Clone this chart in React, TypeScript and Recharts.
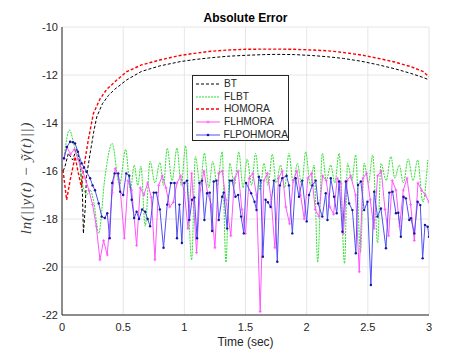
import { CartesianGrid, Line, LineChart, XAxis, YAxis } from 'recharts';

const X_TICKS = [0, 0.5, 1, 1.5, 2, 2.5, 3];
const Y_TICKS = [-22, -20, -18, -16, -14, -12, -10];

// BT (black dashed)
const BT_T = [
  0.01, 0.025, 0.052, 0.087, 0.12, 0.148, 0.167, 0.175, 0.189, 0.2,
  0.23, 0.26, 0.284, 0.33, 0.38, 0.43, 0.53, 0.65, 0.8, 0.97,
  1.08, 1.2, 1.35, 1.5, 1.65, 1.76, 1.9, 2.05, 2.17, 2.3,
  2.45, 2.58, 2.72, 2.85, 2.95, 3.0
];
const BT_V = [
  -16.0, -15.8, -15.26, -15.54, -15.05, -15.68, -16.93, -18.6, -17.6, -16.24,
  -15.26, -14.35, -13.75, -13.2, -12.85, -12.6, -12.2, -11.85, -11.62, -11.44,
  -11.36, -11.29, -11.22, -11.18, -11.15, -11.14, -11.15, -11.19, -11.24, -11.31,
  -11.43, -11.57, -11.74, -11.93, -12.1, -12.2
];

// HOMORA (red dashed)
const HOMORA_T = [
  0.008, 0.038, 0.066, 0.107, 0.13, 0.16, 0.175, 0.215, 0.257, 0.31,
  0.366, 0.45, 0.53, 0.65, 0.8, 0.95, 1.08, 1.2, 1.35, 1.5,
  1.65, 1.76, 1.9, 2.05, 2.17, 2.3, 2.45, 2.58, 2.72, 2.85,
  2.95, 3.0
];
const HOMORA_V = [
  -15.96, -17.2, -16.4, -15.4, -16.0, -16.7, -15.96, -14.7, -13.6, -13.0,
  -12.6, -12.2, -11.86, -11.58, -11.375, -11.2, -11.1, -11.02, -10.96, -10.93,
  -10.92, -10.92, -10.93, -10.96, -10.99, -11.06, -11.17, -11.3, -11.46, -11.65,
  -11.85, -12.07
];

// FLBT (green dotted)
const FLBT_T = [
  0.02, 0.06, 0.11, 0.14, 0.17, 0.2, 0.23, 0.26, 0.3, 0.35,
  0.41, 0.47, 0.52, 0.56, 0.59, 0.62, 0.645, 0.68, 0.72, 0.76,
  0.8, 0.83, 0.86, 0.9, 0.94, 0.975, 1.01, 1.06, 1.09, 1.13,
  1.164, 1.2, 1.232, 1.27, 1.309, 1.34, 1.371, 1.41, 1.445, 1.48,
  1.514, 1.55, 1.582, 1.62, 1.65, 1.685, 1.719, 1.75, 1.787, 1.82,
  1.855, 1.89, 1.924, 1.96, 1.992, 2.03, 2.06, 2.09, 2.128, 2.16,
  2.197, 2.23, 2.265, 2.31, 2.334, 2.37, 2.4, 2.44, 2.47, 2.505,
  2.54, 2.58, 2.607, 2.65, 2.689, 2.72, 2.757, 2.79, 2.83, 2.87,
  2.907, 2.95, 2.99
];
const FLBT_V = [
  -15.3, -14.3, -15.15, -15.6, -16.6, -17.0, -16.8, -17.3, -18.6, -16.3,
  -14.85, -16.6, -15.1, -16.8, -15.75, -16.6, -15.8, -18.3, -15.6, -16.5,
  -15.65, -16.6, -15.05, -16.4, -15.05, -16.6, -14.95, -19.7, -15.4, -16.6,
  -15.26, -16.7, -15.6, -16.6, -15.2, -19.8, -15.68, -16.6, -15.2, -16.7,
  -15.5, -16.6, -15.26, -16.8, -15.68, -16.6, -15.3, -16.5, -15.75, -16.7,
  -15.26, -16.5, -15.68, -16.6, -15.2, -16.6, -15.75, -19.8, -15.26, -16.4,
  -15.75, -16.5, -15.26, -19.85, -15.68, -16.4, -15.33, -19.4, -15.68, -16.5,
  -15.33, -19.0, -15.68, -16.4, -15.4, -16.3, -15.75, -16.5, -15.5, -16.4,
  -15.54, -17.3, -15.54
];

// FLHMORA (magenta)
const FLHMORA_T = [
  0.016, 0.04, 0.07, 0.1, 0.13, 0.16, 0.19, 0.22, 0.25, 0.28,
  0.31, 0.34, 0.37, 0.41, 0.435, 0.47, 0.51, 0.54, 0.57, 0.61,
  0.64, 0.67, 0.7, 0.73, 0.76, 0.79, 0.82, 0.85, 0.88, 0.91,
  0.94, 0.97, 1.0, 1.03, 1.06, 1.1, 1.13, 1.16, 1.19, 1.22,
  1.25, 1.28, 1.31, 1.34, 1.38, 1.41, 1.44, 1.47, 1.5, 1.53,
  1.56, 1.59, 1.62, 1.65, 1.68, 1.71, 1.74, 1.77, 1.8, 1.83,
  1.86, 1.89, 1.92, 1.95, 1.98, 2.01, 2.04, 2.07, 2.1, 2.13,
  2.16, 2.19, 2.22, 2.25, 2.28, 2.3, 2.33, 2.36, 2.4, 2.43,
  2.46, 2.49, 2.52, 2.55, 2.58, 2.61, 2.64, 2.67, 2.7, 2.73,
  2.76, 2.79, 2.82, 2.85, 2.88, 2.91, 2.94, 2.97, 3.0
];
const FLHMORA_V = [
  -15.5, -15.0, -15.3, -15.1, -15.5, -15.9, -16.3, -16.8, -17.4, -18.3,
  -19.7, -18.9, -19.5, -16.9, -15.9, -16.4, -18.8, -16.4, -16.8, -19.1,
  -16.7, -17.0, -16.5, -17.1, -19.7, -16.6, -16.2, -16.7, -17.5, -17.3,
  -16.5, -16.2, -16.9, -18.4, -16.1, -19.4, -16.8, -16.0, -16.9, -17.4,
  -19.2, -16.1, -16.0, -17.2, -18.7, -16.3, -16.0, -17.6, -18.6, -16.3,
  -16.1, -17.0, -21.86, -16.4, -16.1, -17.2, -19.2, -16.3, -16.0, -17.5,
  -18.2, -16.4, -16.0, -17.0, -18.0, -16.3, -16.1, -17.6, -17.9, -16.2,
  -16.4, -17.5, -17.8, -16.3, -16.5, -18.6, -16.4, -16.2, -17.0, -20.2,
  -16.3, -16.1, -17.2, -18.4, -16.2, -16.0, -17.6, -18.7, -16.4, -16.8,
  -18.3, -16.8, -16.3, -17.4, -18.9, -16.5, -16.8, -17.0, -17.3
];

// FLPOHMORA (blue with dots)
const FLPOHMORA_T = [
  0.016, 0.04, 0.066, 0.09, 0.107, 0.13, 0.16, 0.18, 0.2, 0.23,
  0.25, 0.27, 0.3, 0.325, 0.35, 0.37, 0.39, 0.41, 0.43, 0.46,
  0.475, 0.5, 0.525, 0.55, 0.57, 0.59, 0.61, 0.63, 0.655, 0.68,
  0.7, 0.72, 0.75, 0.77, 0.8, 0.83, 0.86, 0.89, 0.92, 0.94,
  0.96, 0.98, 1.0, 1.022, 1.041, 1.063, 1.082, 1.104, 1.123, 1.145,
  1.164, 1.186, 1.208, 1.227, 1.24, 1.262, 1.281, 1.309, 1.322, 1.35,
  1.372, 1.39, 1.418, 1.44, 1.464, 1.486, 1.505, 1.546, 1.574, 1.59,
  1.609, 1.623, 1.642, 1.664, 1.683, 1.705, 1.732, 1.76, 1.781, 1.8,
  1.836, 1.855, 1.883, 1.91, 1.937, 1.964, 2.0, 2.019, 2.046, 2.074,
  2.093, 2.128, 2.156, 2.17, 2.197, 2.224, 2.246, 2.265, 2.292, 2.32,
  2.347, 2.374, 2.402, 2.42, 2.443, 2.47, 2.497, 2.525, 2.552, 2.579,
  2.607, 2.648, 2.675, 2.702, 2.73, 2.749, 2.77, 2.792, 2.811, 2.839,
  2.852, 2.88, 2.907, 2.929, 2.948, 2.967, 2.989, 3.0
];
const FLPOHMORA_V = [
  -15.47, -15.0, -14.78, -14.8, -14.85, -15.2, -15.68, -15.85, -16.03, -16.3,
  -16.6, -16.8, -17.35, -17.9, -17.96, -17.76, -18.8, -16.5, -16.1, -16.1,
  -16.86, -17.0, -16.1, -16.2, -17.2, -17.96, -17.7, -18.0, -17.6, -17.7,
  -18.0, -18.3, -16.9, -16.9, -17.6, -19.2, -17.4, -16.5, -16.5, -18.8,
  -17.4, -19.0, -16.5, -16.4, -18.04, -17.2, -17.1, -18.8, -16.5, -16.4,
  -18.04, -16.93, -16.9, -18.5, -16.44, -16.4, -18.04, -17.07, -16.9, -18.4,
  -16.4, -16.4, -17.07, -17.0, -17.9, -18.6, -16.5, -16.93, -17.28, -17.63,
  -16.24, -16.4, -19.57, -17.2, -17.3, -17.5, -16.4, -19.78, -16.6, -16.3,
  -16.2, -16.6, -18.6, -16.3, -17.07, -16.4, -18.1, -17.0, -16.6, -16.4,
  -17.35, -17.9, -16.93, -18.04, -16.3, -17.07, -17.76, -16.44, -18.53, -16.44,
  -17.35, -17.63, -19.43, -16.58, -16.44, -17.63, -17.28, -20.75, -16.86, -17.9,
  -17.56, -19.22, -16.9, -16.86, -17.76, -17.74, -18.74, -17.07, -17.14, -18.04,
  -17.97, -18.6, -17.28, -17.42, -19.64, -18.25, -18.32, -18.74
];

const FONT = '"Liberation Sans", Arial, sans-serif';
const INK = '#262626';

const COLORS = {
  bt: '#000000',
  flbt: '#2ee02e',
  homora: '#ff0000',
  flhmora: '#ff55ff',
  flpohmora: '#5050f5',
  dot: '#15159a'
};

const toRows = (t: number[], v: number[]) => t.map((time, i) => ({ t: time, v: v[i] }));

const PlusDot = (props: any) => {
  const { cx, cy, index } = props;
  if (cx == null || cy == null) return <g key={`p-${index}`} />;
  return (
    <path
      key={`p-${index}`}
      d={`M${cx - 1.5},${cy}h3M${cx},${cy - 1.5}v3`}
      stroke={COLORS.flhmora}
      strokeWidth={0.8}
    />
  );
};

const YLabel = () => (
  <text
    x={31}
    y={178}
    transform="rotate(-90, 31, 178)"
    textAnchor="middle"
    fill="#404040"
    fontFamily='"Liberation Serif", "DejaVu Serif", serif'
    fontStyle="italic"
    fontSize={15}
    letterSpacing={0.8}
  >
    ln(||y(t) − ỹ(t)||)
  </text>
);

const XLabel = () => (
  <text x={245.5} y={346} textAnchor="middle" fill={INK} fontFamily={FONT} fontSize={12}>
    Time (sec)
  </text>
);

const LEGEND = [
  { name: 'BT', color: COLORS.bt, dash: '3 2', width: 1, mark: '' },
  { name: 'FLBT', color: COLORS.flbt, dash: '2 1', width: 1, mark: '' },
  { name: 'HOMORA', color: COLORS.homora, dash: '3 2', width: 1.4, mark: '' },
  { name: 'FLHMORA', color: COLORS.flhmora, dash: '', width: 1, mark: 'plus' },
  { name: 'FLPOHMORA', color: COLORS.flpohmora, dash: '', width: 1, mark: 'dot' }
];

const LegendBox = () => (
  <div
    style={{
      position: 'absolute',
      left: 192,
      top: 75,
      width: 97,
      height: 66,
      border: `1px solid ${INK}`,
      background: '#fff',
      boxSizing: 'border-box',
      paddingTop: 2,
      fontFamily: FONT,
      fontSize: 10.2,
      color: INK
    }}
  >
    {LEGEND.map((item) => (
      <div key={item.name} style={{ display: 'flex', alignItems: 'center', height: 12.6 }}>
        <svg width={29} height={8} style={{ marginLeft: 2 }}>
          <line
            x1={1}
            y1={4}
            x2={25}
            y2={4}
            stroke={item.color}
            strokeWidth={item.width}
            strokeDasharray={item.dash || undefined}
          />
          {item.mark === 'dot' && <circle cx={13} cy={4} r={1.3} fill={COLORS.dot} />}
          {item.mark === 'plus' && (
            <path d="M11.5,4h3M13,2.5v3" stroke={item.color} strokeWidth={0.8} />
          )}
        </svg>
        <span style={{ lineHeight: '12px' }}>{item.name}</span>
      </div>
    ))}
  </div>
);

export default function App() {
  const tickStyle = { fill: INK, fontSize: 11, fontFamily: FONT };
  return (
    <div style={{ position: 'absolute', left: 0, top: 0, width: 474, height: 355, background: '#fff' }}>
      <div
        style={{
          position: 'absolute',
          left: 62,
          top: 11,
          width: 367,
          textAlign: 'center',
          fontFamily: FONT,
          fontWeight: 'bold',
          fontSize: 12,
          color: '#000'
        }}
      >
        Absolute Error
      </div>
      <LineChart width={474} height={355} margin={{ top: 27, right: 45, bottom: 0, left: 0 }}>
        <CartesianGrid stroke="#e6e6e6" strokeWidth={1} />
        <XAxis
          type="number"
          dataKey="t"
          domain={[0, 3]}
          ticks={X_TICKS}
          allowDataOverflow
          height={40}
          tickLine={false}
          tickSize={6}
          tickMargin={2}
          axisLine={{ stroke: INK }}
          tick={tickStyle}
          label={<XLabel />}
        />
        <XAxis
          xAxisId="top"
          orientation="top"
          type="number"
          dataKey="t"
          domain={[0, 3]}
          height={0}
          tick={false}
          tickLine={false}
          axisLine={{ stroke: INK }}
        />
        <YAxis
          type="number"
          domain={[-22, -10]}
          ticks={Y_TICKS}
          allowDataOverflow
          width={62}
          tickLine={false}
          tickSize={4}
          tickMargin={0}
          axisLine={{ stroke: INK }}
          tick={tickStyle}
          label={<YLabel />}
        />
        <YAxis
          yAxisId="right"
          orientation="right"
          type="number"
          domain={[-22, -10]}
          width={0}
          tick={false}
          tickLine={false}
          axisLine={{ stroke: INK }}
        />
        <Line
          data={toRows(BT_T, BT_V)}
          dataKey="v"
          name="BT"
          type="linear"
          stroke={COLORS.bt}
          strokeWidth={1}
          strokeDasharray="3 2"
          dot={false}
          isAnimationActive={false}
        />
        <Line
          data={toRows(FLBT_T, FLBT_V)}
          dataKey="v"
          name="FLBT"
          type="monotone"
          stroke={COLORS.flbt}
          strokeWidth={1}
          strokeDasharray="2 1"
          dot={false}
          isAnimationActive={false}
        />
        <Line
          data={toRows(HOMORA_T, HOMORA_V)}
          dataKey="v"
          name="HOMORA"
          type="linear"
          stroke={COLORS.homora}
          strokeWidth={1.4}
          strokeDasharray="3 2"
          dot={false}
          isAnimationActive={false}
        />
        <Line
          data={toRows(FLHMORA_T, FLHMORA_V)}
          dataKey="v"
          name="FLHMORA"
          type="linear"
          stroke={COLORS.flhmora}
          strokeWidth={1}
          dot={PlusDot}
          isAnimationActive={false}
        />
        <Line
          data={toRows(FLPOHMORA_T, FLPOHMORA_V)}
          dataKey="v"
          name="FLPOHMORA"
          type="linear"
          stroke={COLORS.flpohmora}
          strokeWidth={1}
          dot={{ r: 1.2, fill: COLORS.dot, stroke: COLORS.dot, strokeWidth: 0 }}
          isAnimationActive={false}
        />
      </LineChart>
      <LegendBox />
    </div>
  );
}
